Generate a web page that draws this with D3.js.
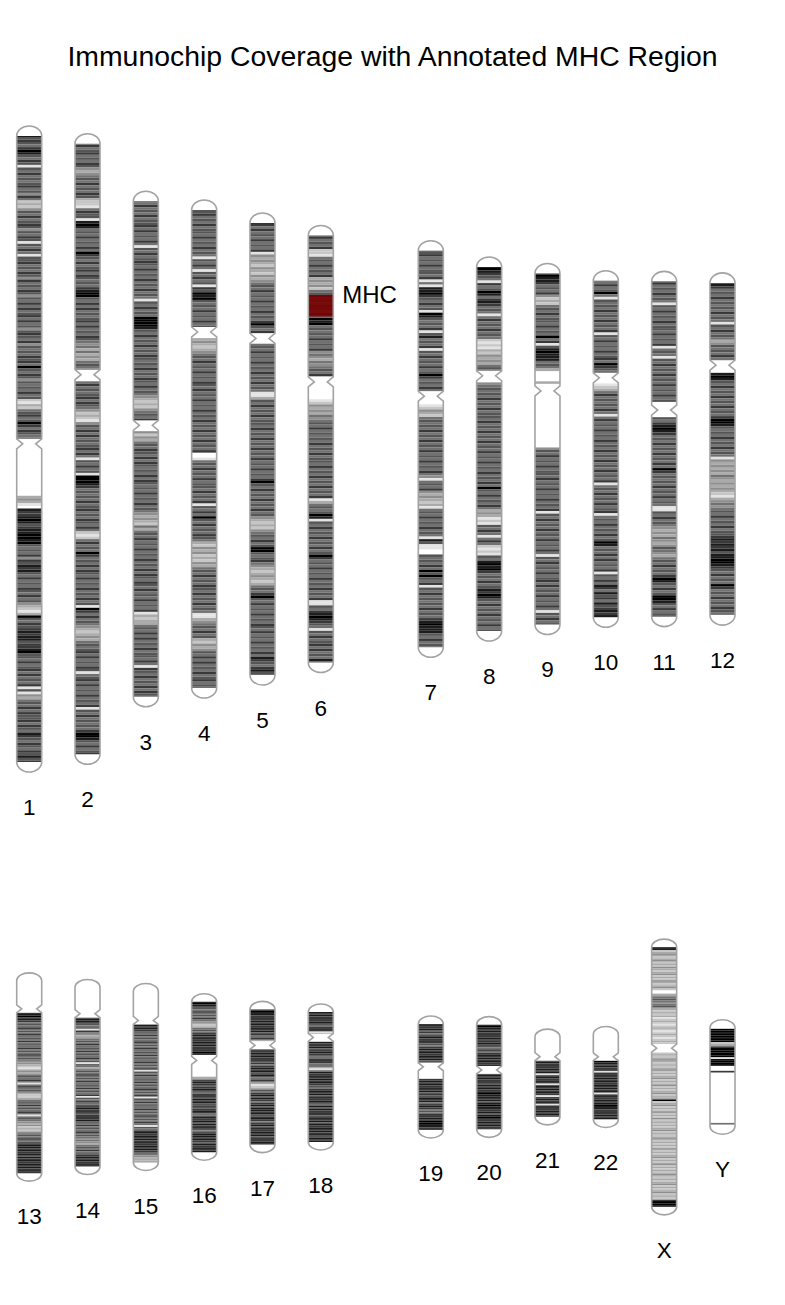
<!DOCTYPE html>
<html>
<head>
<meta charset="utf-8">
<script src="https://cdn.jsdelivr.net/npm/d3@7"></script>
<style>
  body { margin: 0; background: #fff; }
  text { font-family: "Liberation Sans", Arial, sans-serif; fill: #000; }
</style>
</head>
<body>
<script>
// Chromosomes, lengths and centromeres (Mb)
const chromNames = ["1","2","3","4","5","6","7","8","9","10","11","12",
                    "13","14","15","16","17","18","19","20","21","22","X","Y"]
const chromLengths = [249.25, 243.2, 198.0, 191.15, 180.9, 171.1, 159.14, 146.36, 141.21, 135.53, 135.0, 133.85,
                      115.17, 107.35, 102.53, 90.35, 81.2, 78.08, 63.8, 63.03, 48.13, 51.3, 155.27, 59.37]
const centromeres = [122.6, 92.4, 89.7, 49.6, 47.0, 59.2, 58.8, 44.4, 47.8, 39.8, 52.2, 34.0,
                     17.0, 16.0, 17.6, 35.3, 21.8, 15.5, 25.8, 27.3, 12.0, 13.6, 60.5, null]

// Immunochip SNP density, one digit per 1 Mb bin (0 = no SNP, 9 = densest)
const coverage = [
  "8967657986 5761657565 6756475232 4657567646 5761657516 6756576475 6576465757 5675756467 6574656576 7596576465 6575621325 6756975765 5000000000 0000000000 0003431087 7898678899 8965657476 8786575657 6575643213 9657678788 6778966575 6757565716 1435657576 6757658765 7657686786",
  "6575675657 6434565756 5763221576 6189856575 6575976575 6757656578 9965757565 6757565765 4535343565 5400057565 6757654232 1465757565 6757516575 6199987565 6575675657 6575212575 6597565757 6575657565 7561975756 5432343565 6757565761 5675756575 6571657565 6579986575 6787",
  "7657565756 6757565751 6575676575 6575657565 1657565999 9865756575 6576565756 5765756543 2324565700 0042435657 6575765657 5765657565 7565434325 3565756575 6575657576 5765756575 6571323356 5757565756 6575176575 65757657",
  "8767565756 6575657565 1657516575 6176989656 5756575600 0034323456 5756575657 6575657565 7565756575 6575657001 5657565756 6575657165 7596575657 6532434232 4356575657 6575657565 1134565756 3243465757 5657567565 76",
  "9875756575 6571434324 3243456575 6575657565 7965700005 6575657565 7565756511 3657565756 6575657565 7565756575 6579657565 7565756432 3245657569 9656754323 4323565796 5756575657 6575657565 7587657867 8",
  "8675657221 5657565734 3425675657 6575989565 6575657454 3545657000 0000001243 4354565756 5657565756 6575657565 7565713565 6981657565 7565756975 6575657565 7565711657 8987651657 5675756586 78",
  "7867565756 6571518897 6575619865 6571685657 1657565756 9756575700 0012432565 6575657565 7565756575 4156574343 2315657565 7565186110 0656575969 6571657565 6575657898 8865756576",
  "8998765175 6985787565 1575657565 2121324343 5650000456 5657565756 6575657565 7565756575 6575657596 5756575343 1216575157 5212165898 9756575687 9865756575 6575687",
  "7798875657 4232565756 6575659571 6898885653 0000300000 0000000000 0000000000 4657565756 6575657565 7565716575 6575657565 7516575657 5675756575 6575165756 78",
  "6757569516 5657565756 5716575657 5675976500 0012357565 6575157565 7565756575 6575657565 7156575657 5671565756 5756985657 5756571657 5875867586 787867",
  "9875657565 1657565756 6575657156 5165756575 6575657560 0000065789 8756575657 5657597565 6575657565 1165756543 4354346543 5657565798 6575699865 75686",
  "6787565756 5657565165 7565346565 7560000898 6575657565 7565799865 6575657565 1434343543 4343213454 5657565756 6787878688 9987657565 9756575657 6578",
  "0000000000 0000000078 8978756575 6575657565 7565756544 3213435657 5157565322 3565756575 1565434232 4565756788 7878687878 787878",
  "0000000000 0000000078 8765617543 4565756575 6575616535 6575657565 7565716575 6787867878 6575657565 4543565756 78787878",
  "0000000000 0000000007 8787657565 7565756575 6575657165 7565756575 6571657565 7565756575 1657878787 8787876543 334",
  "9987657565 7543235657 8787878787 9800000000 0000034787 6787578687 8676787568 7868786578 8787687878 8",
  "8998787878 7878675751 0006878787 8675787868 6575312365 7868757868 8786787578 6878786878 87",
  "8787878757 8716000087 7867876578 7563158787 8787657878 6878758687 8768786878 787868787",
  "7878675787 8765787878 7865000000 0007878787 8676878578 7565878799 9878",
  "9987878787 7876575787 8787870007 8787868787 8988786898 8786898787 8788",
  "0000000000 0000787878 7817878718 7878717878 178787870",
  "0000000000 0000089878 7817878787 8787817878 7899878787 80",
  "9923432342 3243234232 4323420034 5654564323 2312321232 1232123200 0002323432 3234232342 3242323423 3923423242 3242323234 2323423232 4232342324 2323243232 3423234232 399998",
  "0999999992 3599999919 9990007000 0000000000 0000000000 0000000500"
]

// Annotated region
const mhcChrom = "6"
const mhcStart = 25.0
const mhcEnd = 33.5
const mhcLabel = "MHC"
const title = "Immunochip Coverage with Annotated MHC Region"

// Page and row layout
const width = 785, height = 1305
const rowCenter = [449, 1077]      // vertical middle of each row
const pxPerMb = [2.545, 1.68]
const endPad = [5.8, 7.4]          // outline beyond the chromosome ends
const dome = [10, 8]
const notchH = [5, 4], notchD = [6, 5]
const chromW = 25

const svg = d3.select("body")
  .append("svg")
    .attr("width", width)
    .attr("height", height)

// Position horizontale : deux groupes de six par rangée
const xLeft = d3.scaleLinear().domain([0, 5]).range([29.2, 320.8])
const xRight = d3.scaleLinear().domain([6, 11]).range([430.8, 722.5])

const density = d3.scaleLinear().domain([0, 9]).range(["#ffffff", "#000000"])

const defs = svg.append("defs")

svg.append("text")
  .attr("x", width / 2)
  .attr("y", 66)
  .attr("text-anchor", "middle")
  .style("font-size", "28.4px")
  .text(title)

chromNames.forEach(function(name, i) {
  const row = i < 12 ? 0 : 1
  const j = i % 12
  const cx = j < 6 ? xLeft(j) : xRight(j)
  const len = chromLengths[i]
  const k = pxPerMb[row]
  const y = d3.scaleLinear()
    .domain([0, len])
    .range([rowCenter[row] - len * k / 2, rowCenter[row] + len * k / 2])
  const yT = y(0) - endPad[row], yB = y(len) + endPad[row]
  const h = chromW / 2, d = dome[row]

  const g = svg.append("g").attr("transform", "translate(" + cx + ",0)")

  // zone de dessin des bandes (entre les deux dômes)
  defs.append("clipPath").attr("id", "clip" + name)
    .append("rect")
      .attr("x", -h).attr("width", chromW)
      .attr("y", yT + d).attr("height", (yB - d) - (yT + d))

  const bins = coverage[i].replace(/\s/g, "").split("").map(function(c, b) {
    return {bin: b, v: +c}
  }).filter(function(b) { return b.v > 0 })

  g.append("g")
    .attr("clip-path", "url(#clip" + name + ")")
    .selectAll("rect")
    .data(bins)
    .join("rect")
      .attr("x", -h)
      .attr("width", chromW)
      .attr("y", function(b) { return y(b.bin) })
      .attr("height", function(b) { return y(b.bin + 1) - y(b.bin) })
      .attr("fill", function(b) { return density(b.v) })

  // centromere
  let path
  if (centromeres[i] !== null) {
    const yc = y(centromeres[i]), nh = notchH[row], nd = notchD[row]
    g.append("rect")
      .attr("x", -h).attr("width", chromW)
      .attr("y", yc - nh).attr("height", 2 * nh)
      .attr("fill", "#fff")
    path = "M" + (-h) + "," + (yT + d) +
      "A" + h + "," + d + " 0 0 1 " + h + "," + (yT + d) +
      "L" + h + "," + (yc - nh) + "L" + (h - nd) + "," + yc + "L" + h + "," + (yc + nh) +
      "L" + h + "," + (yB - d) +
      "A" + h + "," + d + " 0 0 1 " + (-h) + "," + (yB - d) +
      "L" + (-h) + "," + (yc + nh) + "L" + (-h + nd) + "," + yc + "L" + (-h) + "," + (yc - nh) + "Z"
  } else {
    path = "M" + (-h) + "," + (yT + d) +
      "A" + h + "," + d + " 0 0 1 " + h + "," + (yT + d) +
      "L" + h + "," + (yB - d) +
      "A" + h + "," + d + " 0 0 1 " + (-h) + "," + (yB - d) + "Z"
  }

  if (name === mhcChrom) {
    g.append("rect")
      .attr("x", -h).attr("width", chromW)
      .attr("y", y(mhcStart)).attr("height", y(mhcEnd) - y(mhcStart))
      .attr("fill", "#780000")
      .attr("fill-opacity", 0.9)
    g.append("text")
      .attr("x", h + 9)
      .attr("y", y(mhcStart) + 8.5)
      .style("font-size", "24px")
      .text(mhcLabel)
  }

  g.append("path")
    .attr("d", path)
    .attr("fill", "none")
    .attr("stroke", "#a3a3a3")
    .attr("stroke-width", 1.6)

  g.append("text")
    .attr("x", 0)
    .attr("y", yB + 43)
    .attr("text-anchor", "middle")
    .style("font-size", "22.5px")
    .text(name)
})
</script>
</body>
</html>
